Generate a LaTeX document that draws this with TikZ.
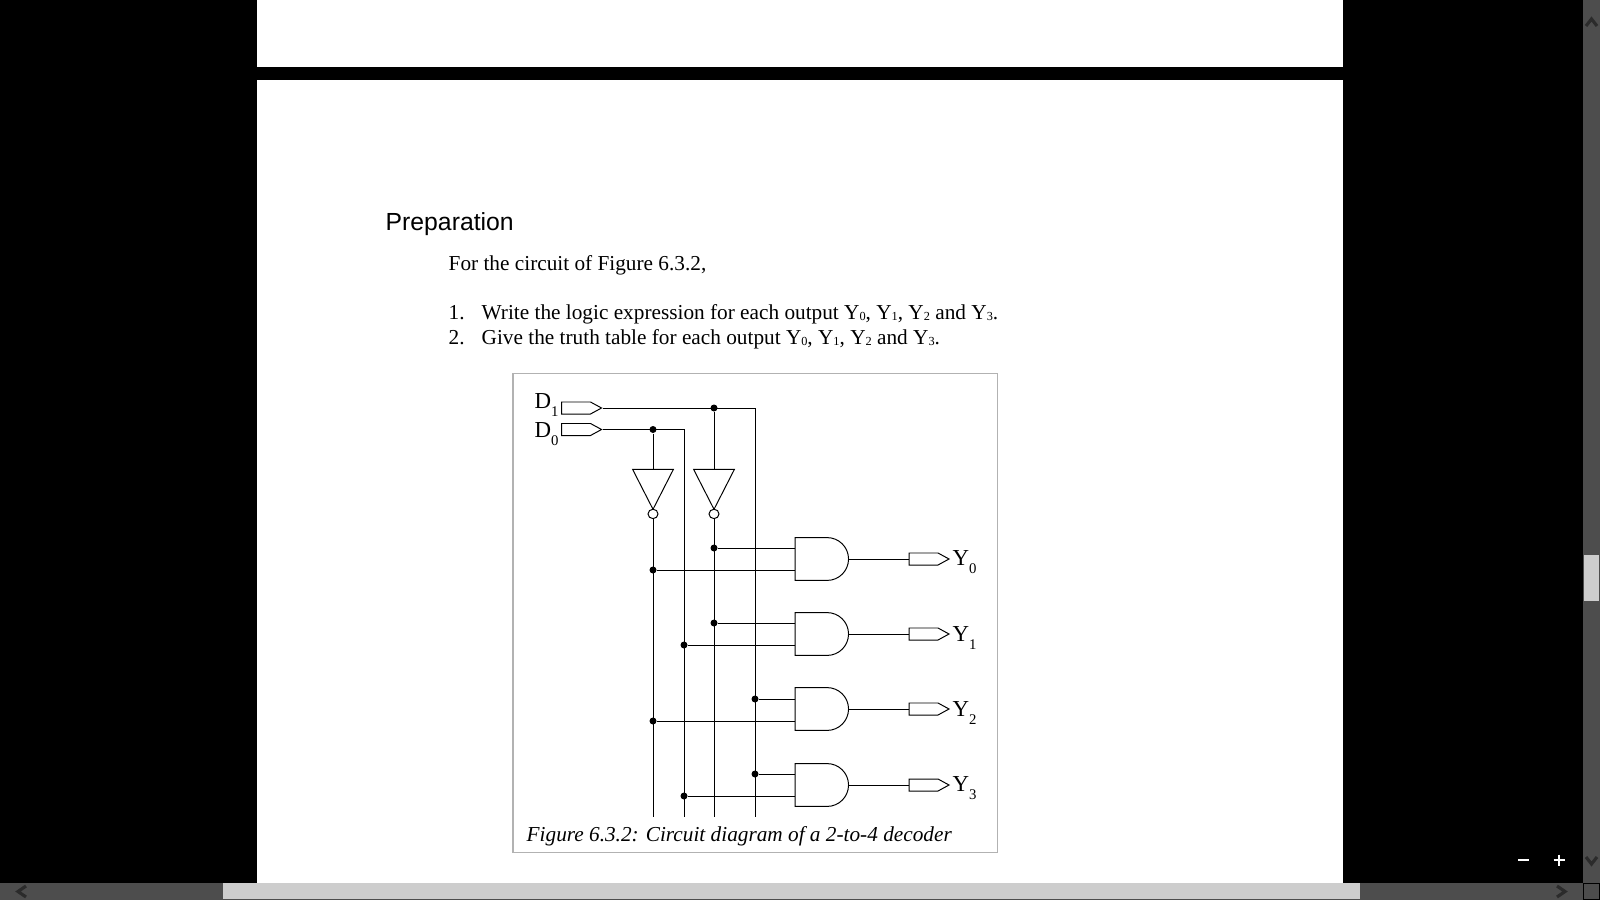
\documentclass[tikz,border=0pt]{standalone}
\usepackage{fontspec}
\setmainfont{Liberation Serif}
\newfontfamily\headfont{Liberation Sans}
\usetikzlibrary{shapes.symbols,shapes.gates.logic.US}
\newcommand{\lowsub}[1]{\raisebox{-2.4pt}{\fontsize{4.2pt}{5pt}\selectfont #1}}
\newcommand{\textlow}[1]{\raisebox{-0.4pt}{\fontsize{3.5pt}{4pt}\selectfont #1}}
\definecolor{barcol}{HTML}{4D4D4D}
\definecolor{thumbcol}{HTML}{CDCDCD}
\definecolor{arrowcol}{HTML}{2B2B2B}
\tikzset{
    wire/.style={line width=0.28pt},
    jointdot/.style={circle,fill=black,inner sep=0pt,minimum size=0.07cm},
    pinbox/.style={draw,line width=0.28pt,shape=signal,signal to=east,signal from=nowhere,signal pointer angle=57,
        inner sep=0pt,minimum width=0.4cm,minimum height=0.12cm},
    andgate/.style={draw,line width=0.28pt,shape=and gate US,logic gate inputs=nn,logic gate input sep=0.13cm,aspect=1.18,
        inner sep=0pt,minimum width=0.45cm,minimum height=0.395cm,scale=0.89,transform shape},
    invgate/.style={draw,line width=0.28pt,shape=not gate US,rotate=-90,xscale=0.94,transform shape,
        logic gate inverted radius=0.05cm,aspect=0.78,inner sep=0pt,minimum width=0.25cm,minimum height=0.35cm},
    bodytext/.style={anchor=base west,inner sep=0pt,font=\fontsize{6.05pt}{7pt}\selectfont},
    labeltext/.style={anchor=base west,inner sep=0pt,font=\fontsize{6.5pt}{8pt}\selectfont},
    chevron/.style={draw=arrowcol,line width=0.9pt},
}
\begin{document}
\begin{tikzpicture}[x=0.01cm,y=-0.01cm]
    \useasboundingbox (0,0) rectangle (1600,900);
    % screen and page
    \fill[black] (0,0) rectangle (1600,900);
    \fill[white] (257,0) rectangle (1343,883);
    \fill[black] (257,67) rectangle (1343,80);
    % scroll bars
    \fill[barcol] (1583,0) rectangle (1600,883);
    \fill[barcol] (0,883) rectangle (1583,900);
    \fill[barcol] (1584,884) rectangle (1599,899);
    \fill[thumbcol] (1584,555) rectangle (1599,601);
    \fill[thumbcol] (223,883) rectangle (1360,899);
    \draw[chevron] (1586,26) -- (1591.5,19) -- (1597,26);
    \draw[chevron] (1586,857) -- (1591.5,864) -- (1597,857);
    \draw[chevron] (26,886) -- (18,891.5) -- (26,897);
    \draw[chevron] (1557,886) -- (1565,891.5) -- (1557,897);
    \draw[white,line width=0.6pt] (1518,860) -- (1529,860);
    \draw[white,line width=0.6pt] (1553.5,860) -- (1564.5,860);
    \draw[white,line width=0.6pt] (1559,854.5) -- (1559,865.5);
    % text
    \node[anchor=base west,inner sep=0pt,font=\headfont\fontsize{7.04pt}{8pt}\selectfont] (title) at (385,230.5) {Preparation};
    \node[bodytext] (intro) at (448,270) {For the circuit of Figure 6.3.2,};
    \node[bodytext] (numa) at (448,319) {1.};
    \node[bodytext] (itema) at (481,319) {Write the logic expression for each output Y\textlow{0}, Y\textlow{1}, Y\textlow{2} and Y\textlow{3}.};
    \node[bodytext] (numb) at (448,344) {2.};
    \node[bodytext] (itemb) at (481,344) {Give the truth table for each output Y\textlow{0}, Y\textlow{1}, Y\textlow{2} and Y\textlow{3}.};
    % figure frame
    \draw[draw=black!30,line width=0.45pt] (513,373.5) rectangle (997.5,852.5);
    \node[bodytext] (caption) at (526,841) {\itshape Figure 6.3.2: Circuit diagram of a 2-to-4 decoder};
    % inputs
    \node[pinbox] (pinD1) at (576,408) {};
    \node[pinbox] (pinD0) at (576,429.5) {};
    \node[labeltext] (labD1) at (534,408) {D\lowsub{1}};
    \node[labeltext] (labD0) at (534,437) {D\lowsub{0}};
    % inverters
    \node[invgate] (notD0) at (653,483) {};
    \node[invgate] (notD1) at (714,483) {};
    % and gates
    \node[andgate] (gate0) at (820,559) {};
    \node[andgate] (gate1) at (820,634) {};
    \node[andgate] (gate2) at (820,709) {};
    \node[andgate] (gate3) at (820,785) {};
    % outputs
    \node[pinbox] (pinY0) at (923.5,559) {};
    \node[pinbox] (pinY1) at (923.5,634) {};
    \node[pinbox] (pinY2) at (923.5,709) {};
    \node[pinbox] (pinY3) at (923.5,785) {};
    \node[labeltext] (labY0) at (952,565.5) {Y\lowsub{0}};
    \node[labeltext] (labY1) at (952,641) {Y\lowsub{1}};
    \node[labeltext] (labY2) at (952,716) {Y\lowsub{2}};
    \node[labeltext] (labY3) at (952,791) {Y\lowsub{3}};
    % joints on the rails
    \node[jointdot] (topD1) at (714,408) {};
    \node[jointdot] (topD0) at (653,429.5) {};
    \node[jointdot] (joinA) at (714,548) {};
    \node[jointdot] (joinB) at (653,570) {};
    \node[jointdot] (joinC) at (714,623) {};
    \node[jointdot] (joinD) at (684,645) {};
    \node[jointdot] (joinE) at (755,699) {};
    \node[jointdot] (joinF) at (653,721) {};
    \node[jointdot] (joinG) at (755,774) {};
    \node[jointdot] (joinH) at (684,796) {};
    \coordinate (cornerD1) at (755,408);
    \coordinate (cornerD0) at (684,429.5);
    \coordinate (endA) at (653,817);
    \coordinate (endB) at (684,817);
    \coordinate (endC) at (714,817);
    \coordinate (endD) at (755,817);
    % wires
    \draw[wire] (pinD1.east) -- (cornerD1) -- (endD);
    \draw[wire] (pinD0.east) -- (cornerD0) -- (endB);
    \draw[wire] (topD0) -- (notD0.input);
    \draw[wire] (topD1) -- (notD1.input);
    \draw[wire] (notD0.output) -- (endA);
    \draw[wire] (notD1.output) -- (endC);
    \draw[wire] (joinA) -- (joinA -| gate0.west);
    \draw[wire] (joinB) -- (joinB -| gate0.west);
    \draw[wire] (joinC) -- (joinC -| gate1.west);
    \draw[wire] (joinD) -- (joinD -| gate1.west);
    \draw[wire] (joinE) -- (joinE -| gate2.west);
    \draw[wire] (joinF) -- (joinF -| gate2.west);
    \draw[wire] (joinG) -- (joinG -| gate3.west);
    \draw[wire] (joinH) -- (joinH -| gate3.west);
    \draw[wire] (gate0.output) -- (pinY0.west);
    \draw[wire] (gate1.output) -- (pinY1.west);
    \draw[wire] (gate2.output) -- (pinY2.west);
    \draw[wire] (gate3.output) -- (pinY3.west);
\end{tikzpicture}
\end{document}
